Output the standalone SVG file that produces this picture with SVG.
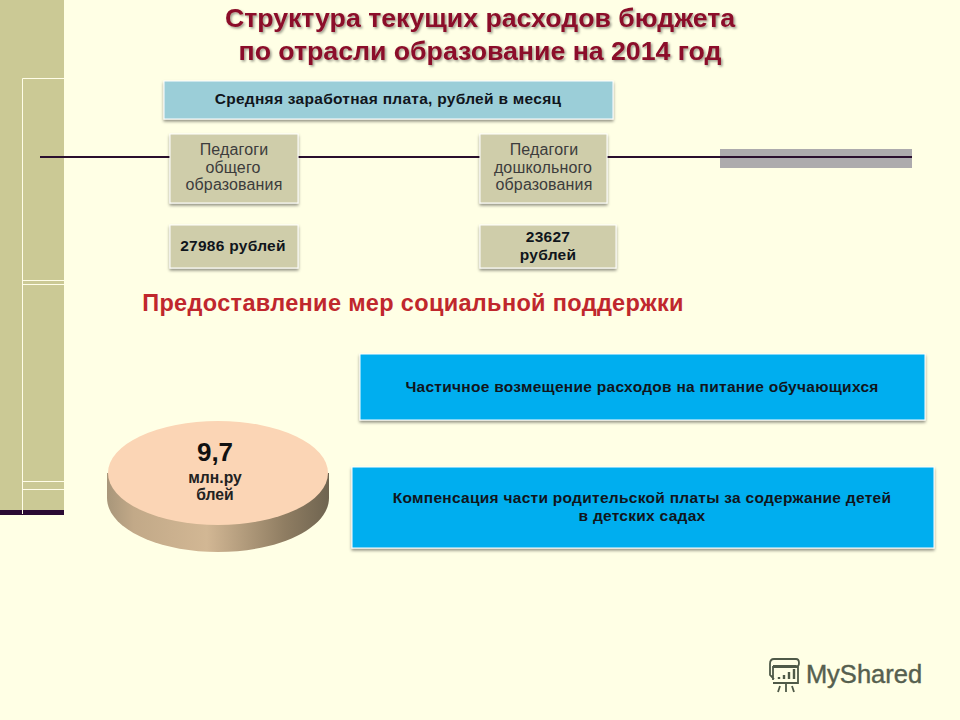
<svg xmlns="http://www.w3.org/2000/svg" width="960" height="720" viewBox="0 0 960 720">
<defs>
<filter id="sh" x="-5%" y="-10%" width="110%" height="125%"><feDropShadow dx="0" dy="2" stdDeviation="1.5" flood-color="#000" flood-opacity="0.45"/></filter>
<filter id="ts" x="-5%" y="-20%" width="110%" height="140%"><feDropShadow dx="1.500" dy="1.500" stdDeviation="1.200" flood-color="#000" flood-opacity="0.4"/></filter>
<linearGradient id="rim" x1="0" y1="0" x2="1" y2="0"><stop offset="0" stop-color="#a8967a"/><stop offset="0.12" stop-color="#c2a988"/><stop offset="0.45" stop-color="#d2b794"/><stop offset="0.8" stop-color="#8f7d62"/><stop offset="1" stop-color="#6f6450"/></linearGradient>
</defs>
<style>
text{font-family:"Liberation Sans",Arial,sans-serif;text-anchor:middle}
.b{font-weight:bold;font-size:15.5px;letter-spacing:.28px;fill:#10151c}
.n{font-size:16px;letter-spacing:.15px;fill:#3c3c3c}
.t{font-weight:bold;font-size:26.7px;fill:#8b1029;filter:url(#ts)}
.bx{stroke:#fff;stroke-width:1;filter:url(#sh)}
.k{fill:#cfcdaa}.bl{fill:#00aeef}
.fr{fill:none;stroke:#fffde8;stroke-width:1}
</style>
<rect width="960" height="720" fill="#ffffe5"/>
<g id="sidebar">
<rect width="64" height="514" fill="#cbc995"/>
<rect x="0" y="510" width="64" height="5" fill="#2a0a33"/>
<path class="fr" d="M64 78.500H22.500V514M22.500 280.500H64M22.500 284.500H64M22.500 481.500H64M22.500 489.500H64"/>
</g>
<rect x="720" y="149" width="192" height="19" fill="#adabad"/>
<g id="connectors"><path d="M40 157H912" stroke="#2a0f2e" stroke-width="2" fill="none"/></g>
<g id="title">
<text class="t" x="480" y="27">Структура текущих расходов бюджета</text>
<text class="t" x="480" y="60">по отрасли образование на 2014 год</text>
</g>
<g id="header"><rect class="bx" x="164" y="81" width="449" height="38" fill="#9bced8"/><text class="b" x="388" y="104">Средняя заработная плата, рублей в месяц</text></g>
<g id="teachers-general"><rect class="bx k" x="170" y="134" width="128" height="69"/><text class="n" x="234" y="155">Педагоги</text><text class="n" x="233" y="173">общего</text><text class="n" x="234" y="190">образования</text></g>
<g id="teachers-preschool"><rect class="bx k" x="480" y="134" width="127" height="69"/><text class="n" x="544" y="155">Педагоги</text><text class="n" x="543" y="173">дошкольного</text><text class="n" x="544" y="190">образования</text></g>
<g id="salary-general"><rect class="bx k" x="170" y="225" width="128" height="43"/><text class="b" x="233" y="251">27986 рублей</text></g>
<g id="salary-preschool"><rect class="bx k" x="480" y="225" width="136" height="43"/><text class="b" x="548" y="242">23627</text><text class="b" x="548" y="260">рублей</text></g>
<text id="subtitle" x="413" y="311" font-size="23.500" letter-spacing=".33" font-weight="bold" fill="#c0272d">Предоставление мер социальной поддержки</text>
<g id="meal"><rect class="bx bl" x="360" y="354" width="565" height="66"/><text class="b" x="642" y="392">Частичное возмещение расходов на питание обучающихся</text></g>
<g id="compensation"><rect class="bx bl" x="352" y="467" width="582" height="81"/><text class="b" x="642" y="503">Компенсация части родительской платы за содержание детей</text><text class="b" x="642" y="521">в детских садах</text></g>
<g id="disc">
<path d="M107 473V498C107 528 157 552 218 552S329 528 329 498V473Z" fill="url(#rim)"/>
<ellipse cx="218" cy="473" rx="110" ry="52" fill="#fbd5b5"/>
<text x="215" y="461" font-size="26" font-weight="bold" fill="#111">9,7</text>
<text x="215" y="483" font-size="15.700" font-weight="bold" fill="#222">млн.ру</text>
<text x="215" y="500" font-size="15.700" font-weight="bold" fill="#222">блей</text>
</g>
<g id="watermark" fill="none" stroke="#4f5a48" stroke-width="1.800">
<path d="M770 664Q770 659 774 659H796Q799 659 799 663T796 666H773M770 664V675L774 679M773 666V680M773 667H798V683H773M786 683V686M780 686L778 692M786 686V692M792 686L794 692"/>
<path d="M779 679V677M784 679V675M789 679V672M794 679V669" stroke-width="2.400"/>
<text x="864" y="683" font-family="'Open Sans',sans-serif" font-size="25.500" fill="#565f4f" stroke="#565f4f" stroke-width=".4">MyShared</text>
</g>
</svg>
